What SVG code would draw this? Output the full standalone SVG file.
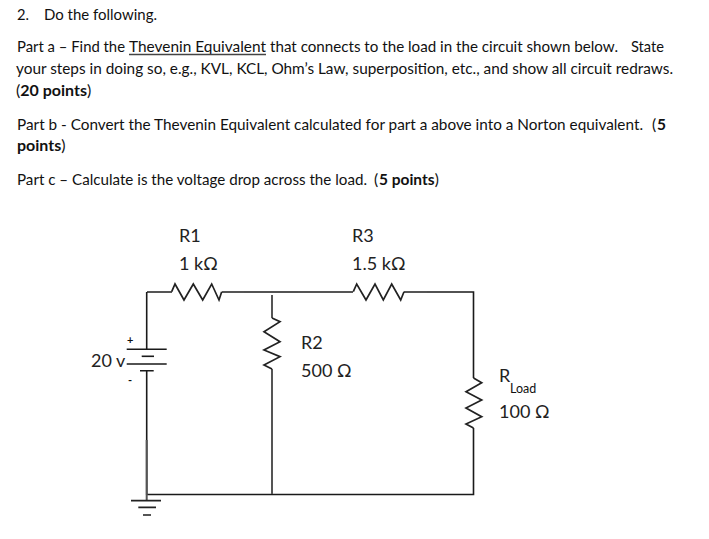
<svg xmlns="http://www.w3.org/2000/svg" width="709" height="539" viewBox="0 0 709 539">
<style>
text{font-family:"Lato","Open Sans","Liberation Sans",sans-serif;fill:#111;font-size:16px}
.c{font-size:18px;fill:#222}
.b{font-weight:700}
.n{font-size:15.500px;font-kerning:none}
.w{fill:none;stroke:#1a1a1a;stroke-width:1.6}
.g{fill:none;stroke:#555;stroke-width:2}
.r{fill:none;stroke:#222;stroke-width:1.7;stroke-linejoin:miter}
</style>
<rect width="709" height="539" fill="#fff"/>
<g id="question">
<text x="17" y="20" textLength="12" lengthAdjust="spacingAndGlyphs">2.</text>
<text x="44" y="20" textLength="113" lengthAdjust="spacingAndGlyphs">Do the following.</text>
<text x="17" y="52" textLength="108" lengthAdjust="spacingAndGlyphs">Part a – Find the</text>
<text x="129" y="52" textLength="137" lengthAdjust="spacingAndGlyphs">Thevenin Equivalent</text>
<path d="M129 54.500H266" stroke="#444" stroke-width="1.400" fill="none"/>
<text x="270" y="52" textLength="348" lengthAdjust="spacingAndGlyphs">that connects to the load in the circuit shown below.</text>
<text x="631" y="52" textLength="33" lengthAdjust="spacingAndGlyphs">State</text>
<text x="16" y="74" textLength="657" lengthAdjust="spacingAndGlyphs">your steps in doing so, e.g., KVL, KCL, Ohm’s Law, superposition, etc., and show all circuit redraws.</text>
<text x="16" y="96">(<tspan class="b">20 points</tspan>)</text>
<text x="17" y="130" textLength="626" lengthAdjust="spacingAndGlyphs">Part b - Convert the Thevenin Equivalent calculated for part a above into a Norton equivalent.</text>
<text class="n" x="652" y="130">(<tspan class="b" dx="0.800">5</tspan></text>
<text x="17" y="151"><tspan class="b">points</tspan>)</text>
<text x="17" y="185" textLength="350" lengthAdjust="spacingAndGlyphs">Part c – Calculate is the voltage drop across the load.</text>
<text class="n" x="374" y="185">(<tspan class="b" dx="0.800">5 points</tspan>)</text>
</g>
<g id="connectors">
<path class="g" d="M147 292H172M222 292H244"/>
<path class="w" d="M244 292H298"/>
<path class="g" d="M298 292H353M404 292H427"/>
<path class="w" d="M427 292H473.500V378"/>
<path class="w" d="M146.700 292V349"/>
<path class="w" d="M146.700 371V494.500H473.500V428"/>
<path class="g" d="M146.700 440V500"/>
<path class="g" d="M272 295V318M272 369V494"/>
</g>
<g id="R1">
<path class="r" d="M171.700 291.700L175 284L184 300L193.300 284L202.700 300L211.700 284L219 300L221.700 291.700"/>
<text class="c" x="179" y="242">R1</text>
<text class="c" x="179" y="270">1 kΩ</text>
</g>
<g id="R2">
<path class="r" d="M272 318L280 321.700L264 331.700L280 341.700L264 350L280 356.700L264 365L272 369"/>
<text class="c" x="301" y="349">R2</text>
<text class="c" x="301" y="377">500 Ω</text>
</g>
<g id="R3">
<path class="r" d="M353.300 291.700L356.700 284L366 300L375 284L383.300 300L391.700 284L400.700 300L404 291.700"/>
<text class="c" x="352" y="242">R3</text>
<text class="c" x="352" y="270">1.5 kΩ</text>
</g>
<g id="RLoad">
<path class="r" d="M473.500 378L481.700 382.700L466 391.700L481.700 400L466 408L481.700 416.700L466 424L473.500 428"/>
<text class="c" x="499" y="382">R</text>
<text x="510" y="393" style="font-size:12.5px">Load</text>
<text class="c" x="499" y="418">100 Ω</text>
</g>
<g id="battery">
<path class="w" d="M126.700 349.300H166.700M126.700 364H166.700M140 370.700H153.700"/>
<path class="w" d="M141.700 356.300H154"/>
<text x="127" y="344" class="b" style="font-size:11px">+</text>
<text x="128" y="384" class="b" style="font-size:11px">-</text>
<text class="c" x="91" y="367">20 v</text>
</g>
<g id="ground">
<path class="r" d="M131 500.700H161M138.300 507.300H156"/>
<path class="g" d="M143 515H151"/>
</g>
</svg>
